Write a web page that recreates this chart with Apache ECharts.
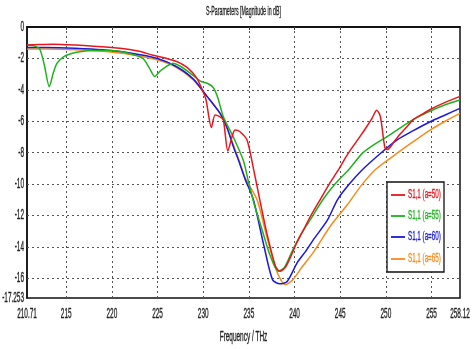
<!DOCTYPE html>
<html>
<head>
<meta charset="utf-8">
<script src="https://cdn.jsdelivr.net/npm/echarts@6/dist/echarts.min.js"></script>
<style>
  html, body { margin: 0; padding: 0; background: #fff; }
  #chart { width: 474px; height: 349px; }
</style>
</head>
<body>
<div id="chart"></div>
<script>
// S11 reflection magnitude (dB) vs frequency (THz) for four values of a
const seriesNames = ['S1,1 (a=50)', 'S1,1 (a=55)', 'S1,1 (a=60)', 'S1,1 (a=65)'];

const freqA50 = [210.71, 212, 213.6, 216, 218, 220.9, 223, 224.5, 226, 227.1, 228.3, 229.3, 229.9, 230.3, 230.9, 231.3, 231.8, 232.2, 232.7, 233.2, 233.5, 234.0, 234.8, 235.5, 236.2, 237.0, 237.9, 238.4, 239.0, 239.6, 240.2, 241.0, 241.7, 242.8, 243.8, 244.8, 245.6, 246.4, 247.2, 247.9, 248.5, 249.0, 249.4, 249.9, 250.2, 250.9, 251.6, 252.3, 253.0, 254.0, 254.85, 256.5, 258.12];
const dbA50 = [-1.15, -1.12, -1.1, -1.15, -1.22, -1.35, -1.55, -1.8, -2.0, -2.2, -2.6, -3.25, -4.0, -4.6, -6.4, -5.6, -5.7, -5.9, -7.9, -6.9, -6.55, -6.65, -7.2, -9.0, -11.0, -13.2, -15.2, -15.55, -15.3, -14.6, -13.8, -12.9, -12.1, -11.0, -10.0, -9.1, -8.3, -7.6, -6.95, -6.35, -5.8, -5.3, -5.7, -7.7, -7.8, -7.3, -6.8, -6.35, -5.9, -5.55, -5.25, -4.8, -4.42];

const freqA55 = [210.71, 211.5, 212.1, 212.6, 213.15, 213.6, 214.0, 214.7, 215.5, 216.5, 218, 220, 222, 223.4, 224.1, 224.7, 225.3, 226.0, 226.7, 227.5, 228.5, 229.7, 230.5, 231.1, 231.6, 232.2, 233.3, 234.4, 234.9, 235.6, 236.5, 237.3, 238.2, 238.9, 239.8, 240.7, 241.7, 243.1, 244.5, 245.9, 247.5, 248.8, 250.1, 251.5, 253.0, 254.5, 256.3, 258.12];
const dbA55 = [-1.15, -1.2, -1.4, -2.4, -3.8, -2.9, -2.3, -1.9, -1.7, -1.57, -1.5, -1.5, -1.7, -2.0, -2.6, -3.15, -2.8, -2.5, -2.3, -2.5, -2.9, -3.45, -3.6, -3.85, -4.5, -5.7, -7.0, -8.5, -9.7, -11.3, -13.0, -14.5, -15.55, -15.3, -14.2, -13.2, -12.3, -11.0, -9.95, -9.1, -8.0, -7.45, -7.0, -6.45, -5.9, -5.45, -5.0, -4.65];

const freqA60 = [210.71, 213, 216, 219, 222, 225, 227, 228.9, 230.4, 231.85, 232.6, 233.3, 234.0, 234.6, 235.5, 236.6, 237.6, 238.4, 239.2, 240.3, 241.2, 242.0, 243.6, 244.7, 246.0, 247.4, 249.4, 251.2, 253.0, 254.85, 256.5, 258.12];
const dbA60 = [-1.3, -1.3, -1.35, -1.45, -1.65, -2.0, -2.5, -3.3, -4.4, -5.5, -6.4, -7.6, -8.7, -9.7, -11.0, -13.8, -16.1, -16.35, -16.2, -15.0, -14.3, -13.6, -12.3, -11.0, -10.0, -9.1, -8.05, -7.2, -6.6, -6.03, -5.6, -5.18];

const freqA65 = [210.71, 213, 216, 219, 222, 225, 227, 228.9, 230.4, 231.85, 232.6, 233.3, 234.0, 234.6, 235.9, 236.9, 237.9, 238.5, 239.0, 239.8, 240.8, 242.0, 243.9, 245.8, 247.3, 248.8, 251.2, 253.0, 254.85, 256.5, 258.12];
const dbA65 = [-1.4, -1.4, -1.45, -1.55, -1.75, -2.1, -2.55, -3.35, -4.4, -5.5, -6.4, -7.5, -8.6, -9.6, -11.0, -13.2, -15.3, -16.1, -16.4, -16.1, -15.3, -14.4, -12.7, -11.3, -10.1, -9.1, -8.05, -7.3, -6.56, -6.0, -5.5];

const xTickLabels = [210.71, 215, 220, 225, 230, 235, 240, 245, 250, 255, 258.12];
const xGridValues = [215, 220, 225, 230, 235, 240, 245, 250, 255];
const yTickLabels = [0, -2, -4, -6, -8, -10, -12, -14, -16, -17.253];
const yGridValues = [-2, -4, -6, -8, -10, -12, -14, -16];

const titleText = 'S-Parameters [Magnitude in dB]';
const xAxisTitle = 'Frequency / THz';

const colors = ['#e8161c', '#1fb21f', '#1a1ad8', '#f78c1c'];
const FONT = '"Liberation Sans", Arial, sans-serif';
const TEXT_COLOR = '#222';

const zip = (xs, ys) => xs.map((x, i) => [x, ys[i]]);
const curves = [zip(freqA50, dbA50), zip(freqA55, dbA55), zip(freqA60, dbA60), zip(freqA65, dbA65)];

const gridLines = xGridValues.map(v => ({ xAxis: v })).concat(yGridValues.map(v => ({ yAxis: v })));

const chart = echarts.init(document.getElementById('chart'), null, { renderer: 'canvas' });

const series = curves.map((data, i) => ({
  name: seriesNames[i],
  type: 'line',
  data: data,
  showSymbol: false,
  smooth: 0.25,
  lineStyle: { color: colors[i], width: 1.5 },
  itemStyle: { color: colors[i] },
  z: 3 + (3 - i),
  animation: false
}));

// dotted grid drawn as mark lines on the first curve
series[0].markLine = {
  silent: true,
  symbol: ['none', 'none'],
  label: { show: false },
  lineStyle: { color: '#555', width: 1, type: [2, 3] },
  data: gridLines,
  animation: false,
  z: 1
};

const GRID = { left: 27, right: 14, top: 27, bottom: 51 };

chart.setOption({
  animation: false,
  grid: Object.assign({
    outerBoundsMode: 'none',
    containLabel: false,
    show: true, borderColor: '#111', borderWidth: 1.5, backgroundColor: '#fff'
  }, GRID),
  xAxis: [{
    type: 'value',
    min: 210.71, max: 258.12,
    axisLine: { show: true, lineStyle: { color: '#111', width: 1.5 } },
    axisTick: { show: true, length: 3, lineStyle: { color: '#333' }, customValues: xGridValues },
    splitLine: { show: false },
    axisLabel: { show: false }
  }, {
    type: 'value', position: 'top',
    min: 210.71, max: 258.12,
    axisLine: { show: true, lineStyle: { color: '#111', width: 1.5 } },
    axisTick: { show: true, inside: true, length: 3, lineStyle: { color: '#333' }, customValues: xGridValues },
    axisLabel: { show: false },
    splitLine: { show: false }
  }],
  yAxis: {
    type: 'value',
    min: -17.253, max: 0,
    axisLine: { show: true, lineStyle: { color: '#111', width: 1.5 } },
    axisTick: { show: false },
    splitLine: { show: false },
    axisLabel: { show: false }
  },
  series: series
});

// Narrow (horizontally compressed) text, placed through the axis scales
function narrowText(text, x, y, opts) {
  const fill = opts.color || TEXT_COLOR;
  return {
    type: 'text',
    x: x, y: y,
    scaleX: opts.scaleX,
    silent: true,
    z: 100,
    style: {
      text: text,
      fontFamily: FONT,
      fontSize: opts.fontSize,
      fill: fill,
      stroke: fill,
      lineWidth: 0.35,
      align: opts.align || 'center',
      verticalAlign: 'middle'
    }
  };
}

const plotBottom = 349 - GRID.bottom;
const plotLeft = GRID.left;
const plotCenterX = (GRID.left + (474 - GRID.right)) / 2;

const graphics = [];

graphics.push(narrowText(titleText, plotCenterX, 11, { fontSize: 13.5, scaleX: 0.39 }));
graphics.push(narrowText(xAxisTitle, plotCenterX, 337, { fontSize: 14, scaleX: 0.46 }));

xTickLabels.forEach(v => {
  const px = chart.convertToPixel({ xAxisIndex: 0 }, v);
  graphics.push(narrowText(String(v), px, plotBottom + 16, { fontSize: 14, scaleX: 0.46 }));
});
yTickLabels.forEach(v => {
  const py = chart.convertToPixel({ yAxisIndex: 0 }, v);
  graphics.push(narrowText(String(v), plotLeft - 3, py, { fontSize: 14, scaleX: 0.46, align: 'right' }));
});

// legend box
const LEG = { x: 387, y: 182, w: 57, h: 90, rowY: [195, 216, 237, 259] };
graphics.push({
  type: 'rect', silent: true, z: 90,
  shape: { x: LEG.x, y: LEG.y, width: LEG.w, height: LEG.h },
  style: { fill: '#fff', stroke: '#111', lineWidth: 1.3 }
});
seriesNames.forEach((name, i) => {
  const ry = LEG.rowY[i];
  graphics.push({
    type: 'line', silent: true, z: 95,
    shape: { x1: LEG.x + 4, y1: ry, x2: LEG.x + 18, y2: ry },
    style: { stroke: colors[i], lineWidth: 1.8 }
  });
  graphics.push(narrowText(name, LEG.x + 21, ry, { fontSize: 12, scaleX: 0.52, align: 'left', color: colors[i] }));
});

chart.setOption({ graphic: graphics });
</script>
</body>
</html>
